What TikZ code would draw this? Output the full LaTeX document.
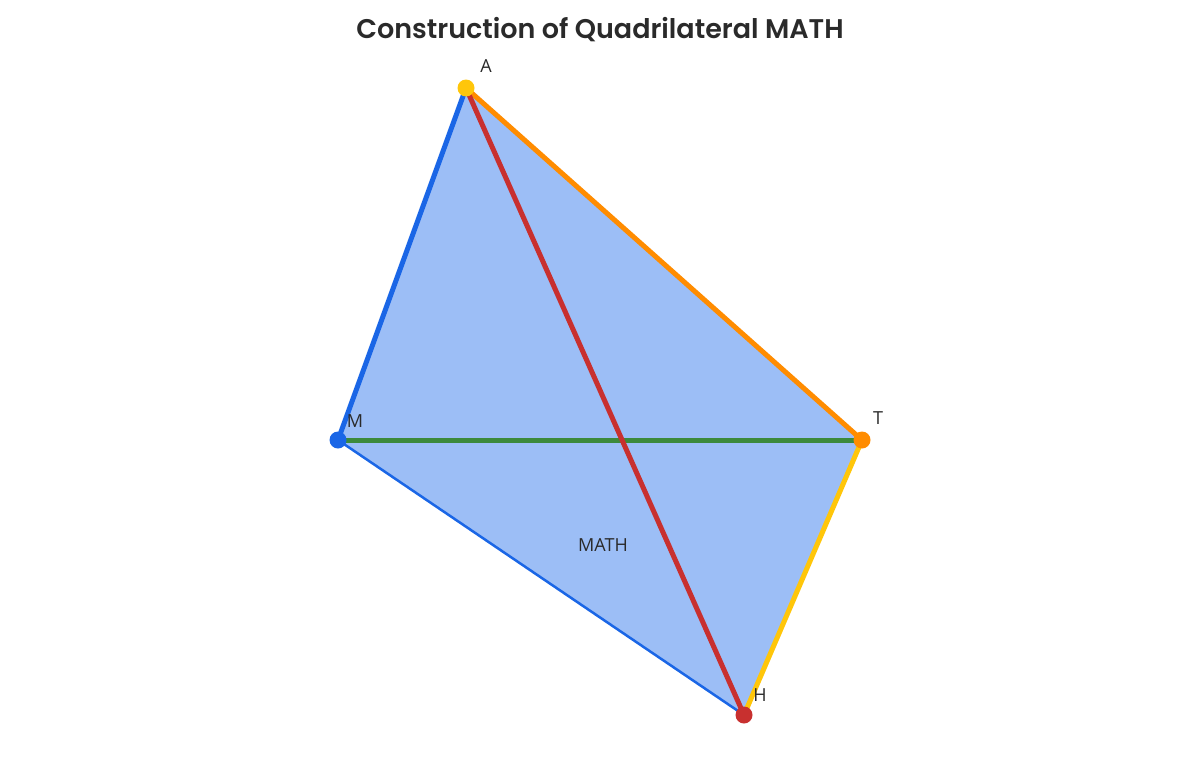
\documentclass[tikz,border=0pt]{standalone}
\usepackage{fontspec}
\setmainfont{Open Sans}
\newfontfamily\titlefont{Poppins SemiBold}
\definecolor{gblue}{HTML}{1A66E6}
\definecolor{lblue}{HTML}{9CBEF6}
\definecolor{gorange}{HTML}{FF8C00}
\definecolor{gyellow}{HTML}{FFC60A}
\definecolor{ggreen}{HTML}{3C8A3C}
\definecolor{gred}{HTML}{C8302F}
\definecolor{txt}{HTML}{2A2A2A}

\begin{document}
\begin{tikzpicture}[x=1pt,y=-1pt,line cap=round,line join=round,
  vertex/.style={circle,fill=#1,inner sep=0pt,minimum size=17pt},
  lbl/.style={text=txt,font=\fontsize{18}{18}\selectfont,inner sep=0pt},
  side/.style={draw=#1,line width=5pt}]

  \useasboundingbox (0,0) rectangle (1200,763);

  \coordinate (M) at (338,440);
  \coordinate (A) at (466,88);
  \coordinate (T) at (862,440);
  \coordinate (H) at (744,715);

  % quadrilateral
  \fill[lblue] (M) -- (A) -- (T) -- (H) -- cycle;
  \path[side=gblue] (M) -- (A);
  \path[side=gorange] (A) -- (T);
  \path[side=gyellow] (T) -- (H);
  \draw[gblue,line width=2.5pt] (H) -- (M);

  % diagonals
  \path[side=ggreen] (M) -- (T);
  \path[side=gred] (A) -- (H);

  \node[vertex=gblue] (m) at (M) {};
  \node[vertex=gyellow] (a) at (A) {};
  \node[vertex=gorange] (t) at (T) {};
  \node[vertex=gred] (h) at (H) {};

  \node[lbl] (la) at (486,66) {A};
  \node[lbl] (lm) at (355,421) {M};
  \node[lbl] (lt) at (878,418) {T};
  \node[lbl] (lh) at (760,695) {H};
  \node[lbl] (math) at (603,545) {MATH};

  \node[text=txt,font=\titlefont\fontsize{27}{27}\selectfont] (title) at (600,30) {Construction of Quadrilateral MATH};
\end{tikzpicture}
\end{document}
